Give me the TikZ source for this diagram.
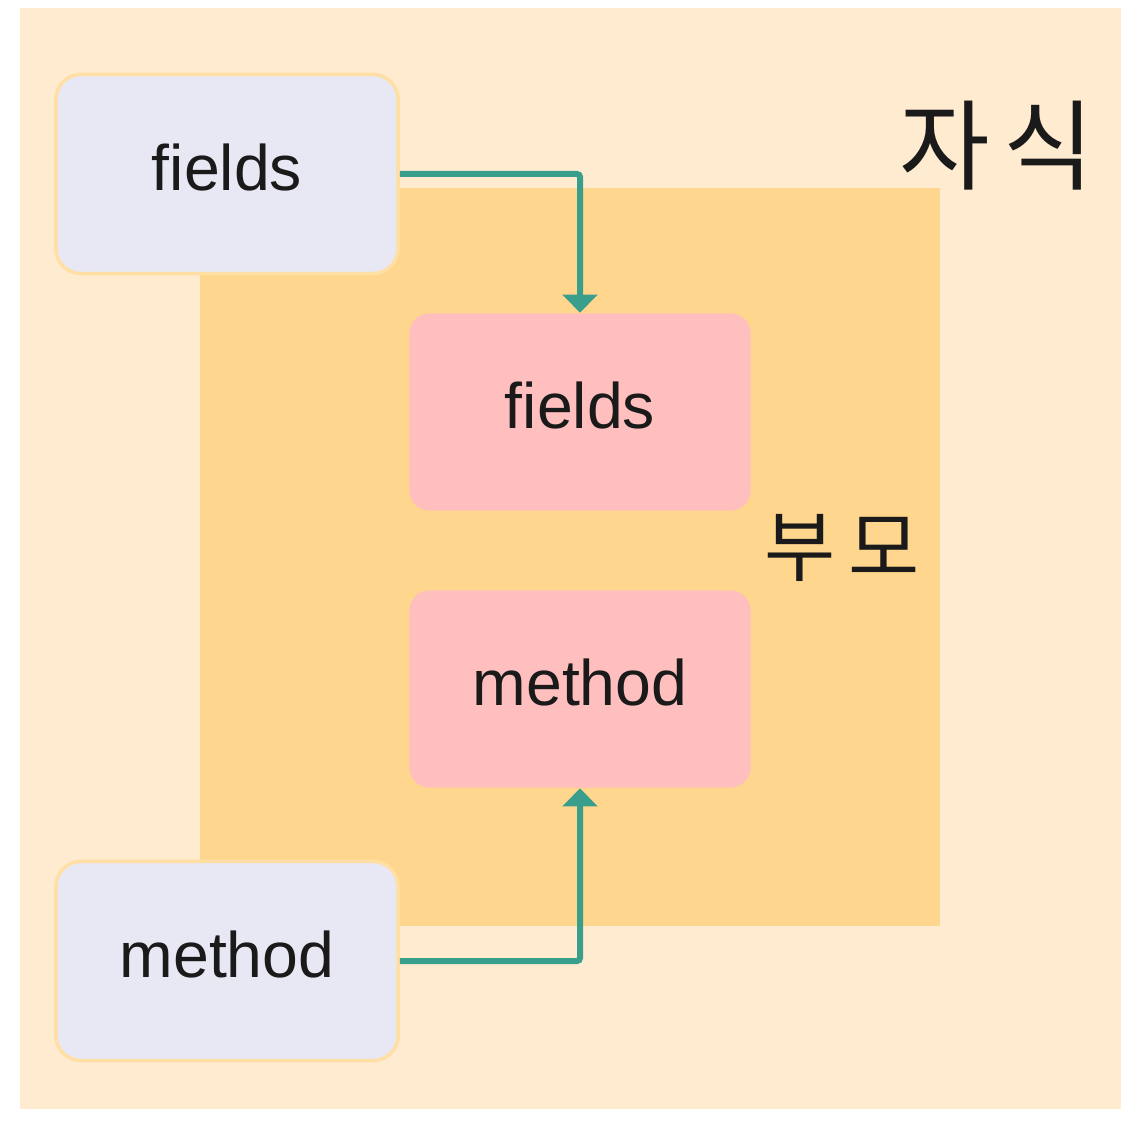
\documentclass[tikz,border=0pt]{standalone}
\usepackage{fontspec}
\setmainfont{Liberation Sans}
\newfontfamily\kofont{Noto Sans CJK KR}
\usepackage{xcolor}
\usetikzlibrary{arrows.meta, positioning, calc}

\definecolor{childbg}{HTML}{FFEBD0}
\definecolor{parentbg}{HTML}{FFD68D}
\definecolor{boxblue}{HTML}{E8E7F4}
\definecolor{boxedge}{HTML}{FFDFA3}
\definecolor{boxpink}{HTML}{FFBFBE}
\definecolor{linkteal}{HTML}{3A9E8C}
\definecolor{inktext}{HTML}{1A1A1A}

\begin{document}
\begin{tikzpicture}[
    x=0.01cm, y=-0.01cm,
    % Node styles
    childbox/.style={rectangle, rounded corners=0.25cm, fill=boxblue, draw=boxedge, line width=1pt, minimum width=3.42cm, minimum height=1.99cm, text depth=0.14cm, text=inktext, font=\fontsize{18.3}{20}\selectfont},
    parentbox/.style={rectangle, rounded corners=0.2cm, fill=boxpink, minimum width=3.41cm, minimum height=1.97cm, text depth=0.14cm, text=inktext, font=\fontsize{18.3}{20}\selectfont},
    classlabel/.style={text=inktext, inner sep=0pt},
    link/.style={-{Triangle[width=0.34cm, length=0.18cm]}, line width=0.06cm, draw=linkteal, rounded corners=0.03cm}
]
\useasboundingbox (0,0) rectangle (1131,1128);

% Backgrounds
\fill[childbg] (20,8) rectangle (1121,1109);
\fill[parentbg] (200,188) rectangle (940,926);

% Class labels
\node[classlabel, font=\kofont\fontsize{28}{28}\selectfont] (child) at (997,146) {자\hspace{0.13cm}식};
\node[classlabel, font=\kofont\fontsize{22}{22}\selectfont] (parent) at (842,548) {부\hspace{0.12cm}모};

% Child members
\node[childbox] (cfields) at (227,174) {fields};
\node[childbox] (cmethod) at (227,961) {method};

% Parent members
\node[parentbox] (pfields) at (580,412) {fields};
\node[parentbox] (pmethod) at (580,689) {method};

% Arrows
\draw[link] (cfields.east) -| (pfields.north);
\draw[link] (cmethod.east) -| (pmethod.south);

\end{tikzpicture}
\end{document}
